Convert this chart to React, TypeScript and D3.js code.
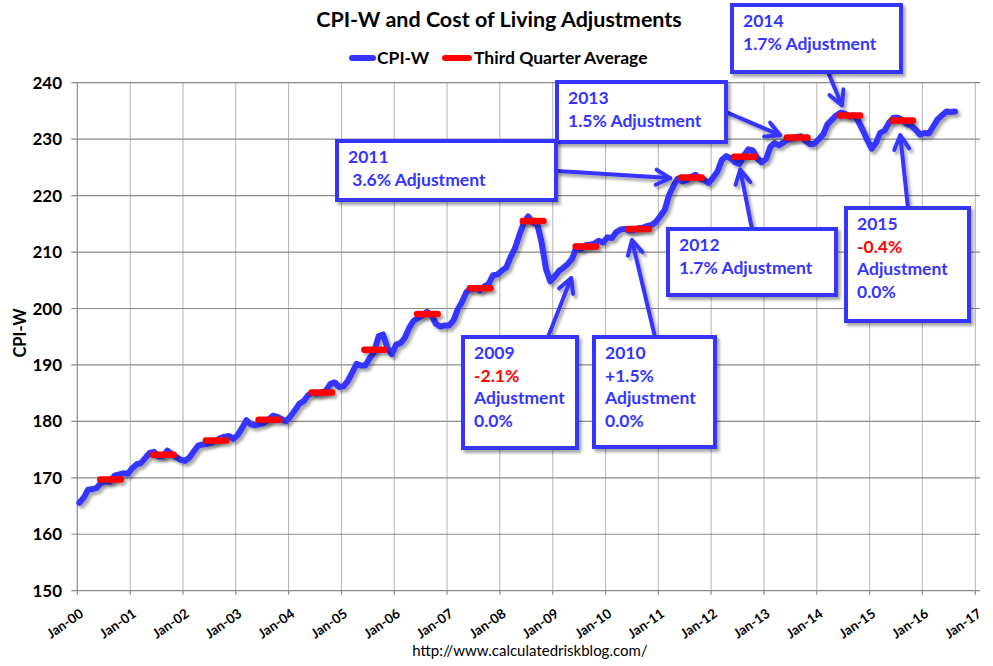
import * as d3 from "d3";

// CPI-W, monthly, not seasonally adjusted (Jan..Dec), one row per year
const years = [2000, 2001, 2002, 2003, 2004, 2005, 2006, 2007, 2008, 2009, 2010, 2011, 2012, 2013, 2014, 2015, 2016];
const cpiw = [
  [165.6, 166.5, 167.9, 168.0, 168.2, 169.2, 169.4, 169.3, 170.4, 170.6, 170.8, 170.7],
  [171.7, 172.4, 172.6, 173.5, 174.4, 174.6, 173.8, 173.8, 174.8, 174.2, 173.7, 173.2],
  [173.0, 173.6, 174.6, 175.7, 175.9, 176.0, 176.2, 176.6, 177.0, 177.3, 177.4, 176.9],
  [177.6, 178.9, 180.2, 179.5, 179.3, 179.5, 179.7, 180.3, 181.0, 180.8, 180.4, 180.0],
  [180.9, 182.0, 183.1, 183.6, 184.6, 185.1, 184.9, 185.1, 185.4, 186.6, 186.9, 186.1],
  [186.2, 187.2, 188.6, 190.2, 189.9, 189.9, 191.2, 192.3, 195.1, 195.4, 193.0, 191.9],
  [193.6, 193.9, 194.8, 196.6, 197.8, 198.3, 198.8, 199.4, 198.8, 197.3, 196.8, 197.0],
  [197.0, 197.9, 199.8, 201.2, 202.9, 203.5, 203.6, 203.2, 203.9, 204.3, 205.9, 206.0],
  [206.7, 207.3, 209.1, 210.7, 213.0, 215.2, 216.3, 215.2, 215.0, 211.8, 207.0, 204.8],
  [205.7, 206.7, 207.2, 207.9, 208.8, 211.0, 210.5, 211.2, 211.3, 211.5, 212.0, 211.7],
  [212.6, 212.5, 213.5, 214.0, 214.1, 213.8, 213.9, 214.2, 214.3, 214.6, 214.8, 215.3],
  [216.4, 217.5, 220.0, 221.7, 223.0, 222.5, 222.7, 223.3, 223.7, 223.0, 222.8, 222.2],
  [223.2, 224.3, 226.3, 227.0, 226.6, 225.9, 225.6, 227.1, 228.2, 228.0, 226.6, 225.9],
  [226.5, 228.7, 229.3, 228.9, 229.4, 230.0, 230.1, 230.4, 230.5, 229.7, 229.1, 229.2],
  [230.0, 230.9, 232.6, 233.4, 234.2, 234.7, 234.5, 234.0, 234.2, 233.2, 231.6, 229.9],
  [228.3, 229.4, 231.1, 231.5, 232.9, 233.8, 233.8, 233.4, 232.7, 232.4, 231.7, 230.8],
  [231.1, 231.0, 232.2, 233.5, 234.2, 234.9, 234.8, 234.9],
];

const q3Years = [2000, 2001, 2002, 2003, 2004, 2005, 2006, 2007, 2008, 2009, 2010, 2011, 2012, 2013, 2014, 2015];
const q3Average = [169.7, 174.1, 176.6, 180.3, 185.1, 192.7, 199.0, 203.6, 215.5, 211.0, 214.1, 223.2, 226.9, 230.3, 234.2, 233.3];

const yTicks = [150, 160, 170, 180, 190, 200, 210, 220, 230, 240];
const xTickYears = [2000, 2001, 2002, 2003, 2004, 2005, 2006, 2007, 2008, 2009, 2010, 2011, 2012, 2013, 2014, 2015, 2016, 2017];

const BLUE = "#3535ff";
const RED = "#ff0000";
const FONT = "Lato, 'Open Sans', sans-serif";

type Line = { text: string; color?: string };
type Note = {
  x: number; y: number; w: number; h: number;
  lines: Line[];
  from: [number, number];
  tip: [number, number]; // [decimal year, CPI-W]
};

const notes: Note[] = [
  { x: 732, y: 5, w: 169, h: 67, lines: [{ text: "2014" }, { text: "1.7% Adjustment" }], from: [828, 72], tip: [2014.475, 236.0] },
  { x: 557, y: 82, w: 169, h: 60, lines: [{ text: "2013" }, { text: "1.5% Adjustment" }], from: [726, 112], tip: [2013.305, 230.7] },
  { x: 337, y: 141, w: 219, h: 59, lines: [{ text: "2011" }, { text: " 3.6% Adjustment" }], from: [557, 171], tip: [2011.225, 223.1] },
  { x: 668, y: 229, w: 168, h: 66, lines: [{ text: "2012" }, { text: "1.7% Adjustment" }], from: [752, 229], tip: [2012.55, 224.6] },
  { x: 846, y: 208, w: 123, h: 113, lines: [{ text: "2015" }, { text: "-0.4%", color: RED }, { text: "Adjustment" }, { text: "0.0%" }], from: [908, 208], tip: [2015.58, 230.7] },
  { x: 463, y: 337, w: 114, h: 111, lines: [{ text: "2009" }, { text: "-2.1%", color: RED }, { text: "Adjustment" }, { text: "0.0%" }], from: [548, 337], tip: [2009.35, 205.4] },
  { x: 594, y: 337, w: 121, h: 110, lines: [{ text: "2010" }, { text: "+1.5%" }, { text: "Adjustment" }, { text: "0.0%" }], from: [655, 337], tip: [2010.5, 212.1] },
];

const decimalDate = (y: number) => {
  const yr = Math.floor(y);
  const start = new Date(yr, 0, 1).getTime();
  const end = new Date(yr + 1, 0, 1).getTime();
  return new Date(start + (y - yr) * (end - start));
};

export default function App() {
  const width = 993;
  const height = 666;
  const plot = { left: 77.3, right: 975.3, edge: 980, top: 82.7, bottom: 590.7 };

  const x = d3.scaleTime()
    .domain([new Date(2000, 0, 1), new Date(2017, 0, 1)])
    .range([plot.left, plot.right]);
  const y = d3.scaleLinear().domain([150, 240]).range([plot.bottom, plot.top]);

  const points: [Date, number][] = [];
  years.forEach((yr, i) => cpiw[i].forEach((v, m) => points.push([new Date(yr, m, 15), v])));

  const line = d3.line<[Date, number]>().x((d) => x(d[0])).y((d) => y(d[1]));

  const arrowHead = (fx: number, fy: number, tx: number, ty: number) => {
    const a = Math.atan2(ty - fy, tx - fx);
    const len = 16;
    const spread = (28 * Math.PI) / 180;
    const p1 = [tx - len * Math.cos(a - spread), ty - len * Math.sin(a - spread)];
    const p2 = [tx - len * Math.cos(a + spread), ty - len * Math.sin(a + spread)];
    return `M${p1[0]},${p1[1]}L${tx},${ty}L${p2[0]},${p2[1]}`;
  };

  return (
    <div style={{ position: "absolute", left: 0, top: 0 }}>
      <svg width={width} height={height} style={{ display: "block", background: "#fff" }} fontFamily={FONT}>
        <defs>
          <filter id="shadow" filterUnits="userSpaceOnUse" x={0} y={0} width={width} height={height}>
            <feDropShadow dx={2.5} dy={3} stdDeviation={1.6} floodColor="#000" floodOpacity={0.35} />
          </filter>
        </defs>

        <text x={499} y={27} textAnchor="middle" fontSize={21.5} fontWeight="bold" fill="#000">
          CPI-W and Cost of Living Adjustments
        </text>

        {/* legend */}
        <g fontSize={17.5} fontWeight="bold" fill="#000">
          <line x1={352} x2={373} y1={58} y2={58} stroke={BLUE} strokeWidth={6} strokeLinecap="round" />
          <text x={377} y={64}>CPI-W</text>
          <line x1={445} x2={469} y1={58} y2={58} stroke={RED} strokeWidth={6} strokeLinecap="round" />
          <text x={474} y={64}>Third Quarter Average</text>
        </g>

        {/* grid */}
        {xTickYears.slice(1).map((yr) => (
          <line key={"v" + yr} x1={x(new Date(yr, 0, 1))} x2={x(new Date(yr, 0, 1))} y1={plot.top} y2={plot.bottom} stroke="#b4b4b4" strokeWidth={1} />
        ))}
        {yTicks.map((t) => (
          <g key={"h" + t}>
            <line x1={plot.left - 6} x2={plot.edge} y1={y(t)} y2={y(t)} stroke="#8a8a8a" strokeWidth={1.2} />
            <text x={62} y={y(t)} dy="0.36em" textAnchor="end" fontSize={17} fontWeight="bold" fill="#000">{t}</text>
          </g>
        ))}
        <line x1={plot.left} x2={plot.left} y1={plot.top} y2={plot.bottom} stroke="#8a8a8a" strokeWidth={1.2} />
        {xTickYears.map((yr) => {
          const px = x(new Date(yr, 0, 1));
          return (
            <g key={"x" + yr}>
              <line x1={px} x2={px} y1={plot.bottom} y2={plot.bottom + 4} stroke="#8a8a8a" strokeWidth={1.2} />
              <text
                transform={`translate(${px + 7},${plot.bottom + 25}) rotate(-35)`}
                textAnchor="end" fontSize={13.5} fontWeight="bold" fill="#000"
              >
                {"Jan-" + String(yr % 100).padStart(2, "0")}
              </text>
            </g>
          );
        })}

        <text transform="translate(26,333) rotate(-90)" textAnchor="middle" fontSize={16.5} fontWeight="bold" fill="#000">CPI-W</text>

        {/* series */}
        <path d={line(points) ?? undefined} fill="none" stroke={BLUE} strokeWidth={6} strokeLinejoin="round" strokeLinecap="round" filter="url(#shadow)" />
        <g filter="url(#shadow)">
          {q3Years.map((yr, i) => (
            <line key={"q" + yr}
              x1={x(new Date(yr, 5, 8))} x2={x(new Date(yr, 9, 28))}
              y1={y(q3Average[i])} y2={y(q3Average[i])}
              stroke={RED} strokeWidth={6.5} strokeLinecap="round" />
          ))}
        </g>

        {/* annotations */}
        {notes.map((n, i) => {
          const tx = x(decimalDate(n.tip[0]));
          const ty = y(n.tip[1]);
          return (
            <g key={"n" + i}>
              <g filter="url(#shadow)" stroke={BLUE} strokeWidth={4} fill="none" strokeLinecap="round" strokeLinejoin="round">
                <line x1={n.from[0]} y1={n.from[1]} x2={tx} y2={ty} />
                <path d={arrowHead(n.from[0], n.from[1], tx, ty)} />
              </g>
              <rect x={n.x} y={n.y} width={n.w} height={n.h} fill="#fff" stroke={BLUE} strokeWidth={4} filter="url(#shadow)" />
              {n.lines.map((l, j) => (
                <text key={j} x={n.x + 11} y={n.y + 22 + j * 22.7} fontSize={17.5} fontWeight="bold" fill={l.color ?? BLUE} style={{ whiteSpace: "pre" }}>
                  {l.text}
                </text>
              ))}
            </g>
          );
        })}

        <text x={530} y={656} textAnchor="middle" fontSize={15} fill="#000">http://www.calculatedriskblog.com/</text>
      </svg>
    </div>
  );
}
